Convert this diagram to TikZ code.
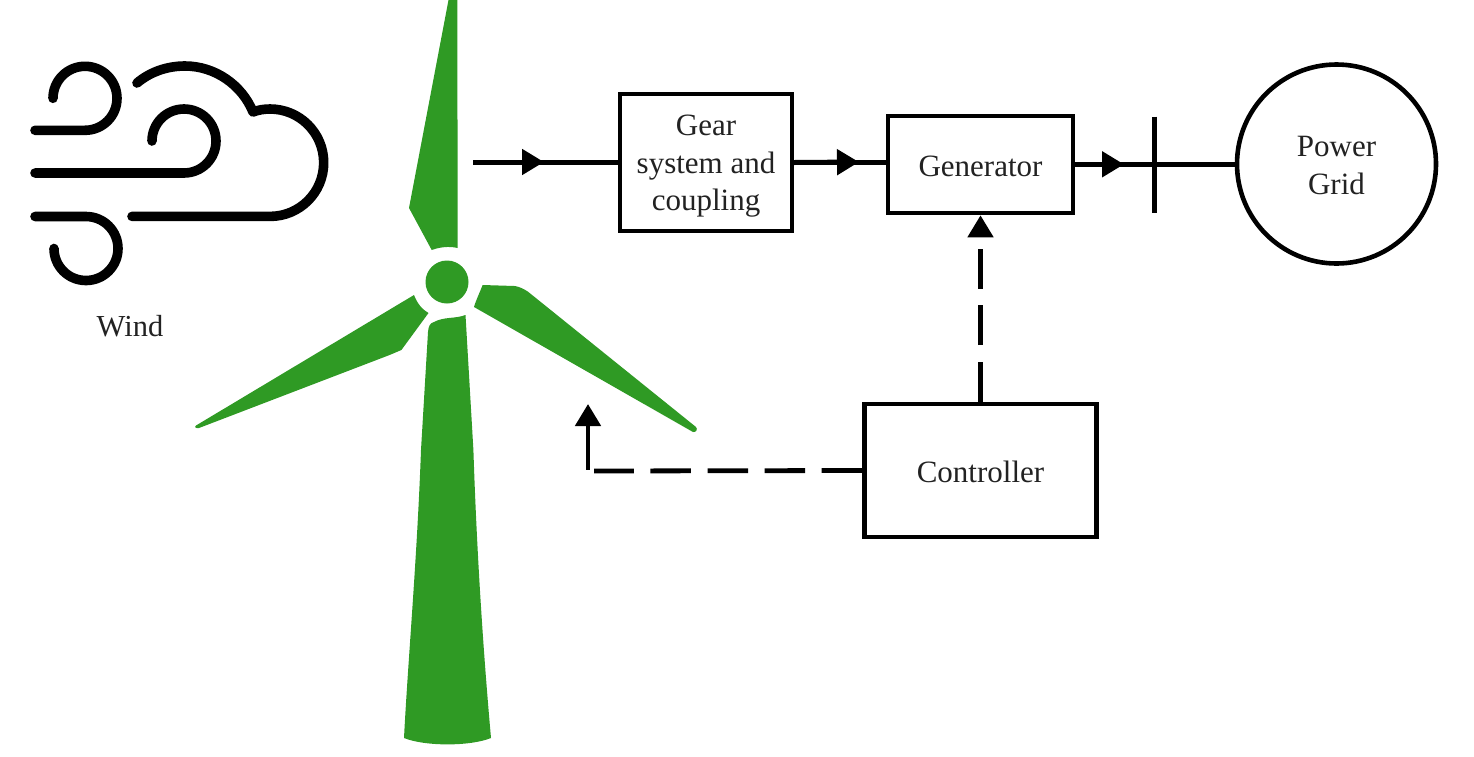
\documentclass[tikz,border=0pt]{standalone}
\usepackage{fontspec}
\setmainfont{Liberation Serif}
\usetikzlibrary{arrows.meta}
\definecolor{bladegreen}{HTML}{2F9A24}
\definecolor{inktext}{HTML}{222222}
\tikzset{
  block/.style={draw=black,line width=4.6pt,fill=white,inner sep=0pt,align=center,text=inktext,
    font=\fontsize{31}{37.7}\selectfont},
  caption/.style={inner sep=0pt,text=inktext,font=\fontsize{30.5}{37}\selectfont},
  flow/.style={draw=black,line width=5pt},
  control/.style={draw=black,line width=4.8pt},
  headtip/.style={-{Triangle[length=22pt,width=25pt]}},
  turbine/.style={fill=bladegreen,draw=none},
  windline/.style={draw=black,line width=9.6pt,line cap=round,line join=round}
}
\begin{document}
\begin{tikzpicture}[x=1pt,y=-1pt]
\useasboundingbox (0,0) rectangle (1474,756);
% wind icon
\draw[windline] (53,98.3) .. controls (53,80.6) and (67.3,66.3) .. (85,66.3) .. controls (102.7,66.3) and (117,80.6) .. (117,98.3) .. controls (117,116) and (102.7,130.3) .. (85,130.3) -- (35,130.3);
\draw[windline] (152,141) .. controls (152,123.3) and (166.3,109) .. (184,109) .. controls (201.7,109) and (216,123.3) .. (216,141) .. controls (216,158.7) and (201.7,173) .. (184,173) -- (35,173);
\draw[windline] (35,216.5) -- (86,216.5) .. controls (103.7,216.5) and (118,230.8) .. (118,248.5) .. controls (118,266.2) and (103.7,280.5) .. (86,280.5) .. controls (68.3,280.5) and (54,266.2) .. (54,248.5);
\draw[windline] (137,83) .. controls (150,72) and (167,66) .. (185,66) .. controls (215,66) and (242,85) .. (253,112) .. controls (258,110) and (264,109) .. (270,109) .. controls (299.7,109) and (323.7,133) .. (323.7,162.7) .. controls (323.7,192.4) and (299.7,216.4) .. (270,216.4) -- (132,216.4);
\node[caption,anchor=base] (windlabel) at (130,336.7) {Wind};
% turbine
\fill[turbine] (447,282) circle[radius=21.5];
\path[turbine] (465.5,315) -- (473.4,450) .. controls (477,560) and (484,660) .. (491,738) .. controls (470,746.5) and (425,746.5) .. (404,738) .. controls (408,660) and (417,560) .. (421,450) -- (428,332) .. controls (428.5,326) and (430,323) .. (434,322) .. controls (444,316.5) and (455,319) .. (465.5,315) -- cycle;
\path[turbine] (448.5,0) -- (457.3,0) -- (457.7,248) .. controls (449,246) and (440,247) .. (431.7,250) -- (409,208) -- cycle;
\path[turbine] (414,295) -- (196,425.5) .. controls (194,427.5) and (196,428.5) .. (199,428) -- (389.6,355) -- (401.4,350) -- (428.5,313) .. controls (422,309.5) and (417,303) .. (414,295) -- cycle;
\path[turbine] (474,307) .. controls (476,300) and (480,292) .. (482.6,285) -- (514.7,286) .. controls (519,286.5) and (524,289) .. (528,291.7) -- (696,427) .. controls (698,429) and (696,433) .. (693,432) -- cycle;
% blocks
\node[block,minimum width=172pt,minimum height=137pt,text height=96.4pt,text depth=0pt] (gear) at (706,162.5) {Gear\\system and\\coupling};
\node[block,minimum width=185pt,minimum height=97pt,text height=23pt,text depth=0pt] (generator) at (980.5,164.5) {Generator};
\node[block,minimum width=232pt,minimum height=133pt,text height=24.4pt,text depth=0pt] (controller) at (980.5,470.5) {Controller};
\node[block,circle,minimum size=199pt,text height=60pt,text depth=0pt] (grid) at (1336.5,164) {Power\\Grid};
% connectors
\coordinate (shaftin) at (473,162);
\coordinate (shafttip) at (544,162);
\coordinate (geartip) at (859,162);
\coordinate (gridtip) at (1124,164.3);
\coordinate (bustop) at (1154,116.7);
\coordinate (busbottom) at (1154,213);
\coordinate (dashend) at (594,471);
\coordinate (bladefoot) at (588,469.5);
\coordinate (bladetip) at (588,404);
\draw[flow] (shaftin) -- (shaftin -| gear.west);
\draw[flow,headtip] (shaftin) -- (shafttip);
\draw[flow] (gear.east) -- (gear.east -| generator.west);
\draw[flow,headtip] (gear.east) -- (geartip);
\draw[flow] (generator.east |- gridtip) -- (gridtip -| grid.west);
\draw[flow,headtip] (generator.east |- gridtip) -- (gridtip);
\draw[flow] (bustop) -- (busbottom);
\draw[control,dash pattern=on 40pt off 16.5pt,headtip] (controller.north) -- (generator.south);
\draw[control,dash pattern=on 40.5pt off 16.6pt] (controller.west) -- (dashend);
\draw[control,headtip] (bladefoot) -- (bladetip);
\end{tikzpicture}
\end{document}
